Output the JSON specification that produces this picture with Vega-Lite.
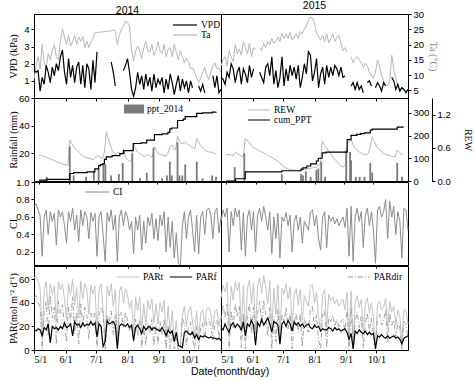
{
"$schema":"https://vega.github.io/schema/vega-lite/v6.json",
"padding":{"left":7,"top":0,"right":2,"bottom":2},
"title":{"text":"Date(month/day)","orient":"bottom","anchor":"middle","font":"Liberation Sans","fontSize":10.5,"fontWeight":"normal","offset":2,"dx":-10},
"datasets":{
"w14":[
{"d":0,"v":1.6,"t":8.6,"r":0.47,"c":4,"ci":0.72,"pt":61,"pf":17,"pd":44},
{"d":2,"v":1.5,"t":13,"r":0.46,"c":4,"ci":0.75,"pt":62,"pf":16,"pd":46},
{"d":4,"v":1.6,"t":16,"r":0.45,"c":4,"ci":0.68,"pt":58,"pf":18,"pd":40},
{"d":6,"v":0.4,"t":12,"r":0.44,"c":4,"ci":0.62,"pt":53,"pf":17,"pd":36},
{"d":8,"v":1.2,"t":20,"r":0.43,"c":7,"ci":0.15,"pt":13,"pf":12,"pd":1},
{"d":10,"v":0.8,"t":14,"r":0.41,"c":7,"ci":0.6,"pt":51,"pf":19,"pd":32},
{"d":12,"v":1.9,"t":12.5,"r":0.40,"c":7,"ci":0.68,"pt":58,"pf":17,"pd":41},
{"d":14,"v":1.5,"t":17,"r":0.38,"c":7,"ci":0.4,"pt":34,"pf":22,"pd":12},
{"d":16,"v":0.9,"t":15,"r":0.37,"c":7,"ci":0.66,"pt":56,"pf":6,"pd":46},
{"d":18,"v":1.8,"t":18,"r":0.35,"c":7,"ci":0.55,"pt":47,"pf":20,"pd":27},
{"d":20,"v":1.3,"t":20,"r":0.34,"c":7,"ci":0.64,"pt":54,"pf":18,"pd":36},
{"d":22,"v":2.0,"t":16,"r":0.33,"c":7,"ci":0.28,"pt":24,"pf":19,"pd":5},
{"d":24,"v":1.6,"t":15,"r":0.31,"c":7,"ci":0.68,"pt":58,"pf":17,"pd":41},
{"d":26,"v":2.4,"t":21,"r":0.30,"c":7,"ci":0.6,"pt":51,"pf":20,"pd":31},
{"d":28,"v":2.8,"t":25,"r":0.29,"c":7,"ci":0.66,"pt":56,"pf":18,"pd":38},
{"d":30,"v":1.5,"t":22.5,"r":0.28,"c":7,"ci":0.5,"pt":43,"pf":23,"pd":20},
{"d":32,"v":0.8,"t":20,"r":0.74,"c":33,"ci":0.3,"pt":26,"pf":19,"pd":7},
{"d":34,"v":2.3,"t":23,"r":0.68,"c":33,"ci":0.66,"pt":56,"pf":20,"pd":36},
{"d":36,"v":1.2,"t":19.5,"r":0.62,"c":37,"ci":0.55,"pt":47,"pf":22,"pd":25},
{"d":38,"v":1.9,"t":21,"r":0.58,"c":37,"ci":0.7,"pt":60,"pf":12,"pd":45},
{"d":40,"v":0.9,"t":23,"r":0.55,"c":37,"ci":0.45,"pt":38,"pf":24,"pd":14},
{"d":42,"v":1.8,"t":20,"r":0.51,"c":37,"ci":0.62,"pt":53,"pf":21,"pd":32},
{"d":44,"v":2.1,"t":22.5,"r":0.47,"c":37,"ci":0.32,"pt":27,"pf":22,"pd":5},
{"d":46,"v":0.8,"t":21,"r":0.45,"c":37,"ci":0.68,"pt":58,"pf":19,"pd":39},
{"d":48,"v":1.9,"t":22.7,"r":0.43,"c":37,"ci":0.5,"pt":43,"pf":23,"pd":20},
{"d":50,"v":0.6,"t":19,"r":0.42,"c":40,"ci":0.66,"pt":56,"pf":20,"pd":36},
{"d":52,"v":2.0,"t":21,"r":0.41,"c":40,"ci":0.6,"pt":51,"pf":22,"pd":29},
{"d":54,"v":1.7,"t":19,"r":0.40,"c":40,"ci":0.35,"pt":30,"pf":21,"pd":9},
{"d":56,"v":0.5,"t":21,"r":0.38,"c":40,"ci":0.65,"pt":55,"pf":24,"pd":31},
{"d":58,"v":2.2,"t":22,"r":0.42,"c":53,"ci":0.55,"pt":47,"pf":21,"pd":26},
{"d":60,"v":0.9,"t":23.8,"r":0.44,"c":53,"ci":0.64,"pt":54,"pf":23,"pd":31},
{"d":62,"v":2.7,"t":24,"r":0.46,"c":68,"ci":0.15,"pt":13,"pf":11,"pd":2},
{"d":64,"v":null,"t":24,"r":0.42,"c":72,"ci":0.6,"pt":51,"pf":22,"pd":29},
{"d":66,"v":null,"t":24.2,"r":0.41,"c":75,"ci":0.66,"pt":56,"pf":20,"pd":36},
{"d":68,"v":null,"t":24.1,"r":0.52,"c":95,"ci":0.4,"pt":34,"pf":3,"pd":31},
{"d":70,"v":null,"t":24.3,"r":0.89,"c":106,"ci":0.09,"pt":8,"pf":7,"pd":1},
{"d":72,"v":null,"t":24.4,"r":0.76,"c":106,"ci":0.65,"pt":54,"pf":25,"pd":29},
{"d":74,"v":null,"t":24.3,"r":0.66,"c":106,"ci":0.55,"pt":46,"pf":22,"pd":24},
{"d":76,"v":2.1,"t":24.6,"r":0.55,"c":112,"ci":0.68,"pt":56,"pf":23,"pd":33},
{"d":78,"v":1.5,"t":24.8,"r":0.50,"c":112,"ci":0.45,"pt":37,"pf":24,"pd":13},
{"d":80,"v":0.7,"t":24.5,"r":0.48,"c":112,"ci":0.62,"pt":51,"pf":21,"pd":30},
{"d":82,"v":null,"t":20,"r":0.52,"c":112,"ci":0.09,"pt":7,"pf":1,"pd":6},
{"d":84,"v":null,"t":23,"r":0.50,"c":120,"ci":0.6,"pt":49,"pf":20,"pd":29},
{"d":86,"v":null,"t":25,"r":0.48,"c":120,"ci":0.68,"pt":54,"pf":22,"pd":32},
{"d":88,"v":1.6,"t":26,"r":0.58,"c":134,"ci":0.5,"pt":40,"pf":21,"pd":19},
{"d":90,"v":1.9,"t":27.6,"r":0.42,"c":134,"ci":0.66,"pt":52,"pf":20,"pd":32},
{"d":92,"v":2.3,"t":27.2,"r":0.39,"c":134,"ci":0.6,"pt":47,"pf":22,"pd":25},
{"d":94,"v":1.5,"t":26,"r":0.36,"c":134,"ci":0.45,"pt":35,"pf":19,"pd":16},
{"d":96,"v":0.5,"t":18,"r":0.35,"c":134,"ci":0.55,"pt":42,"pf":21,"pd":21},
{"d":98,"v":0.1,"t":14.6,"r":0.68,"c":165,"ci":0.18,"pt":14,"pf":8,"pd":6},
{"d":100,"v":0.6,"t":17.8,"r":0.60,"c":165,"ci":0.6,"pt":45,"pf":19,"pd":26},
{"d":102,"v":1.5,"t":19.5,"r":0.54,"c":165,"ci":0.45,"pt":33,"pf":21,"pd":12},
{"d":104,"v":0.8,"t":18,"r":0.50,"c":165,"ci":0.62,"pt":45,"pf":18,"pd":27},
{"d":106,"v":1.3,"t":15.5,"r":0.48,"c":168,"ci":0.22,"pt":16,"pf":14,"pd":2},
{"d":108,"v":0.5,"t":19,"r":0.46,"c":168,"ci":0.55,"pt":39,"pf":20,"pd":19},
{"d":110,"v":1.4,"t":21,"r":0.44,"c":168,"ci":0.3,"pt":21,"pf":17,"pd":4},
{"d":112,"v":0.7,"t":18,"r":0.48,"c":180,"ci":0.6,"pt":42,"pf":19,"pd":23},
{"d":114,"v":1.2,"t":17.5,"r":0.46,"c":180,"ci":0.5,"pt":34,"pf":20,"pd":14},
{"d":116,"v":0.4,"t":20,"r":0.45,"c":180,"ci":0.64,"pt":43,"pf":17,"pd":26},
{"d":118,"v":1.4,"t":16.5,"r":0.44,"c":180,"ci":0.35,"pt":23,"pf":19,"pd":4},
{"d":120,"v":0.6,"t":18,"r":0.62,"c":204,"ci":0.58,"pt":39,"pf":18,"pd":21},
{"d":122,"v":1.1,"t":21,"r":0.55,"c":204,"ci":0.33,"pt":22,"pf":17,"pd":5},
{"d":124,"v":0.8,"t":18,"r":0.50,"c":204,"ci":0.62,"pt":40,"pf":16,"pd":24},
{"d":126,"v":1.2,"t":17,"r":0.48,"c":204,"ci":0.5,"pt":32,"pf":19,"pd":13},
{"d":128,"v":0.3,"t":20,"r":0.47,"c":207,"ci":0.66,"pt":42,"pf":16,"pd":26},
{"d":130,"v":1.1,"t":16,"r":0.46,"c":207,"ci":0.2,"pt":13,"pf":12,"pd":1},
{"d":132,"v":0.5,"t":18.5,"r":0.45,"c":207,"ci":0.6,"pt":37,"pf":17,"pd":20},
{"d":134,"v":1.4,"t":19,"r":0.50,"c":214,"ci":0.25,"pt":15,"pf":14,"pd":1},
{"d":136,"v":0.9,"t":16,"r":0.62,"c":229,"ci":0.55,"pt":33,"pf":16,"pd":17},
{"d":138,"v":0.2,"t":20,"r":0.65,"c":233,"ci":0.13,"pt":8,"pf":7,"pd":1},
{"d":140,"v":0.8,"t":17.5,"r":0.60,"c":233,"ci":0.42,"pt":25,"pf":15,"pd":10},
{"d":142,"v":1.3,"t":15,"r":0.56,"c":233,"ci":0.07,"pt":4,"pf":4,"pd":0},
{"d":144,"v":0.4,"t":18,"r":0.81,"c":266,"ci":0.05,"pt":3,"pf":3,"pd":0},
{"d":146,"v":1.1,"t":16,"r":0.72,"c":266,"ci":0.5,"pt":29,"pf":2,"pd":27},
{"d":148,"v":0.6,"t":14,"r":0.68,"c":266,"ci":0.66,"pt":37,"pf":15,"pd":22},
{"d":150,"v":1.0,"t":15.5,"r":0.68,"c":272,"ci":0.35,"pt":20,"pf":16,"pd":4},
{"d":152,"v":0.3,"t":14.5,"r":0.70,"c":283,"ci":0.6,"pt":33,"pf":14,"pd":19},
{"d":154,"v":1.0,"t":12,"r":0.67,"c":283,"ci":0.68,"pt":37,"pf":13,"pd":24},
{"d":156,"v":0.6,"t":12.4,"r":0.65,"c":283,"ci":0.45,"pt":24,"pf":15,"pd":9},
{"d":158,"v":null,"t":11,"r":0.62,"c":283,"ci":0.2,"pt":11,"pf":10,"pd":1},
{"d":160,"v":null,"t":9.5,"r":0.60,"c":283,"ci":0.62,"pt":33,"pf":13,"pd":20},
{"d":162,"v":0.7,"t":7.5,"r":0.58,"c":283,"ci":0.18,"pt":10,"pf":9,"pd":1},
{"d":164,"v":0.4,"t":9,"r":0.77,"c":297,"ci":0.6,"pt":31,"pf":12,"pd":19},
{"d":166,"v":0.8,"t":11,"r":0.70,"c":297,"ci":0.66,"pt":34,"pf":11,"pd":23},
{"d":168,"v":0.3,"t":12.5,"r":0.64,"c":297,"ci":0.4,"pt":21,"pf":12,"pd":9},
{"d":170,"v":null,"t":10,"r":0.60,"c":300,"ci":0.68,"pt":35,"pf":11,"pd":24},
{"d":172,"v":null,"t":8.5,"r":0.57,"c":300,"ci":0.7,"pt":36,"pf":10,"pd":26},
{"d":174,"v":null,"t":11,"r":0.54,"c":300,"ci":0.62,"pt":31,"pf":11,"pd":20},
{"d":176,"v":1.3,"t":13,"r":0.53,"c":300,"ci":0.35,"pt":18,"pf":10,"pd":8},
{"d":178,"v":0.6,"t":14,"r":0.52,"c":300,"ci":0.66,"pt":33,"pf":10,"pd":23},
{"d":180,"v":1.3,"t":12,"r":0.52,"c":303,"ci":0.7,"pt":34,"pf":9,"pd":25},
{"d":182,"v":0.3,"t":12.4,"r":0.50,"c":303,"ci":0.42,"pt":20,"pf":10,"pd":10},
{"d":184,"v":0.5,"t":11,"r":0.49,"c":305,"ci":0.6,"pt":29,"pf":8,"pd":21}
],
"w15":[
{"d":0,"v":1.2,"t":13,"r":0.48,"c":0,"ci":0.55,"pt":44,"pf":19,"pd":25},
{"d":2,"v":1.1,"t":15,"r":0.48,"c":0,"ci":0.68,"pt":55,"pf":17,"pd":38},
{"d":4,"v":0.8,"t":16,"r":0.47,"c":0,"ci":0.6,"pt":49,"pf":22,"pd":27},
{"d":6,"v":1.5,"t":13,"r":0.47,"c":0,"ci":0.7,"pt":57,"pf":18,"pd":39},
{"d":8,"v":1.2,"t":18,"r":0.46,"c":0,"ci":0.2,"pt":16,"pf":15,"pd":1},
{"d":10,"v":2.0,"t":16,"r":0.52,"c":10,"ci":0.66,"pt":54,"pf":21,"pd":33},
{"d":12,"v":1.7,"t":14.5,"r":0.49,"c":10,"ci":0.5,"pt":42,"pf":23,"pd":19},
{"d":14,"v":0.9,"t":20,"r":0.47,"c":10,"ci":0.7,"pt":58,"pf":19,"pd":39},
{"d":16,"v":1.5,"t":17,"r":0.45,"c":10,"ci":0.6,"pt":50,"pf":22,"pd":28},
{"d":18,"v":1.8,"t":18.5,"r":0.44,"c":10,"ci":0.68,"pt":57,"pf":20,"pd":37},
{"d":20,"v":0.8,"t":16.5,"r":0.77,"c":40,"ci":0.22,"pt":19,"pf":17,"pd":2},
{"d":22,"v":1.7,"t":21,"r":0.74,"c":40,"ci":0.65,"pt":55,"pf":24,"pd":31},
{"d":24,"v":1.4,"t":19,"r":0.70,"c":40,"ci":0.15,"pt":13,"pf":12,"pd":1},
{"d":26,"v":0.9,"t":17,"r":0.65,"c":40,"ci":0.6,"pt":52,"pf":22,"pd":30},
{"d":28,"v":1.9,"t":20.5,"r":0.61,"c":40,"ci":0.68,"pt":59,"pf":20,"pd":39},
{"d":30,"v":1.2,"t":16,"r":0.59,"c":40,"ci":0.45,"pt":39,"pf":25,"pd":14},
{"d":32,"v":1.7,"t":19,"r":0.57,"c":40,"ci":0.66,"pt":57,"pf":21,"pd":36},
{"d":34,"v":null,"t":18.5,"r":0.55,"c":40,"ci":0.2,"pt":17,"pf":4,"pd":13},
{"d":36,"v":null,"t":null,"r":0.53,"c":40,"ci":0.62,"pt":54,"pf":23,"pd":31},
{"d":38,"v":1.5,"t":19,"r":0.52,"c":40,"ci":0.7,"pt":61,"pf":20,"pd":41},
{"d":40,"v":1.2,"t":18,"r":0.50,"c":40,"ci":0.55,"pt":48,"pf":26,"pd":22},
{"d":42,"v":0.9,"t":20.5,"r":0.48,"c":40,"ci":0.72,"pt":63,"pf":21,"pd":42},
{"d":44,"v":1.8,"t":19,"r":0.46,"c":40,"ci":0.6,"pt":53,"pf":24,"pd":29},
{"d":46,"v":2.0,"t":21,"r":0.44,"c":40,"ci":0.45,"pt":39,"pf":27,"pd":12},
{"d":48,"v":1.3,"t":20,"r":0.42,"c":40,"ci":0.66,"pt":58,"pf":22,"pd":36},
{"d":50,"v":2.4,"t":22,"r":0.40,"c":40,"ci":0.18,"pt":16,"pf":15,"pd":1},
{"d":52,"v":0.8,"t":20.5,"r":0.38,"c":40,"ci":0.6,"pt":52,"pf":24,"pd":28},
{"d":54,"v":1.6,"t":21,"r":0.36,"c":40,"ci":0.35,"pt":30,"pf":23,"pd":7},
{"d":56,"v":0.6,"t":22.5,"r":0.32,"c":40,"ci":0.64,"pt":55,"pf":21,"pd":34},
{"d":58,"v":1.2,"t":21,"r":0.30,"c":45,"ci":0.13,"pt":11,"pf":5,"pd":6},
{"d":60,"v":2.4,"t":23.8,"r":0.26,"c":45,"ci":0.6,"pt":52,"pf":22,"pd":30},
{"d":62,"v":0.7,"t":22,"r":0.24,"c":45,"ci":0.55,"pt":47,"pf":24,"pd":23},
{"d":64,"v":1.7,"t":23.5,"r":0.22,"c":45,"ci":0.65,"pt":56,"pf":20,"pd":36},
{"d":66,"v":1.0,"t":22,"r":0.21,"c":45,"ci":0.5,"pt":43,"pf":25,"pd":18},
{"d":68,"v":1.9,"t":24,"r":0.20,"c":45,"ci":0.62,"pt":53,"pf":22,"pd":31},
{"d":70,"v":1.3,"t":21.5,"r":0.20,"c":45,"ci":0.2,"pt":17,"pf":16,"pd":1},
{"d":72,"v":1.8,"t":22.5,"r":0.19,"c":45,"ci":0.55,"pt":47,"pf":24,"pd":23},
{"d":74,"v":1.1,"t":23.5,"r":0.19,"c":45,"ci":0.62,"pt":52,"pf":21,"pd":31},
{"d":76,"v":1.9,"t":22,"r":0.18,"c":45,"ci":0.45,"pt":38,"pf":23,"pd":15},
{"d":78,"v":0.6,"t":24.3,"r":0.20,"c":52,"ci":0.6,"pt":51,"pf":20,"pd":31},
{"d":80,"v":1.2,"t":23.5,"r":0.21,"c":58,"ci":0.3,"pt":25,"pf":22,"pd":3},
{"d":82,"v":2.0,"t":25,"r":0.20,"c":58,"ci":0.55,"pt":46,"pf":19,"pd":27},
{"d":84,"v":1.4,"t":26,"r":0.22,"c":66,"ci":0.5,"pt":41,"pf":21,"pd":20},
{"d":86,"v":2.7,"t":28,"r":0.23,"c":66,"ci":0.45,"pt":37,"pf":22,"pd":15},
{"d":88,"v":2.5,"t":29,"r":0.23,"c":75,"ci":0.66,"pt":54,"pf":19,"pd":35},
{"d":90,"v":1.0,"t":28.7,"r":0.24,"c":75,"ci":0.68,"pt":55,"pf":18,"pd":37},
{"d":92,"v":1.5,"t":27,"r":0.25,"c":75,"ci":0.5,"pt":40,"pf":21,"pd":19},
{"d":94,"v":2.3,"t":24,"r":0.24,"c":88,"ci":0.62,"pt":49,"pf":19,"pd":30},
{"d":96,"v":0.6,"t":22.5,"r":0.30,"c":100,"ci":0.35,"pt":28,"pf":20,"pd":8},
{"d":98,"v":1.4,"t":21.5,"r":0.28,"c":100,"ci":0.22,"pt":17,"pf":16,"pd":1},
{"d":100,"v":1.8,"t":23,"r":0.72,"c":124,"ci":0.6,"pt":47,"pf":18,"pd":29},
{"d":102,"v":0.8,"t":21,"r":0.66,"c":124,"ci":0.66,"pt":51,"pf":17,"pd":34},
{"d":104,"v":1.9,"t":23.5,"r":0.60,"c":127,"ci":0.25,"pt":19,"pf":17,"pd":2},
{"d":106,"v":1.2,"t":20.5,"r":0.56,"c":127,"ci":0.62,"pt":47,"pf":19,"pd":28},
{"d":108,"v":1.8,"t":22,"r":0.51,"c":127,"ci":0.55,"pt":42,"pf":18,"pd":24},
{"d":110,"v":1.3,"t":23.5,"r":0.46,"c":127,"ci":0.6,"pt":45,"pf":16,"pd":29},
{"d":112,"v":1.9,"t":21,"r":0.41,"c":127,"ci":0.52,"pt":39,"pf":19,"pd":20},
{"d":114,"v":1.7,"t":22.5,"r":0.38,"c":127,"ci":0.58,"pt":43,"pf":17,"pd":26},
{"d":116,"v":1.3,"t":23,"r":0.34,"c":127,"ci":0.5,"pt":37,"pf":18,"pd":19},
{"d":118,"v":1.8,"t":20.5,"r":0.30,"c":127,"ci":0.55,"pt":40,"pf":16,"pd":24},
{"d":120,"v":1.2,"t":18,"r":0.27,"c":127,"ci":0.6,"pt":43,"pf":17,"pd":26},
{"d":122,"v":1.3,"t":19,"r":0.25,"c":127,"ci":0.48,"pt":34,"pf":18,"pd":16},
{"d":124,"v":null,"t":17.5,"r":0.30,"c":127,"ci":0.7,"pt":49,"pf":15,"pd":34},
{"d":126,"v":null,"t":null,"r":0.68,"c":182,"ci":0.15,"pt":10,"pf":9,"pd":1},
{"d":128,"v":0.7,"t":16,"r":0.70,"c":182,"ci":0.72,"pt":50,"pf":14,"pd":36},
{"d":130,"v":0.9,"t":14,"r":0.74,"c":201,"ci":0.09,"pt":6,"pf":1,"pd":5},
{"d":132,"v":0.5,"t":15.5,"r":0.66,"c":201,"ci":0.6,"pt":40,"pf":16,"pd":24},
{"d":134,"v":0.9,"t":16,"r":0.60,"c":201,"ci":0.7,"pt":46,"pf":14,"pd":32},
{"d":136,"v":0.5,"t":15,"r":0.56,"c":205,"ci":0.55,"pt":36,"pf":17,"pd":19},
{"d":138,"v":0.7,"t":14,"r":0.53,"c":205,"ci":0.66,"pt":43,"pf":15,"pd":28},
{"d":140,"v":0.3,"t":12.5,"r":0.51,"c":208,"ci":0.25,"pt":16,"pf":14,"pd":2},
{"d":142,"v":null,"t":14,"r":0.49,"c":208,"ci":0.62,"pt":39,"pf":16,"pd":23},
{"d":144,"v":0.9,"t":13,"r":0.48,"c":212,"ci":0.7,"pt":44,"pf":13,"pd":31},
{"d":146,"v":1.0,"t":11,"r":0.47,"c":212,"ci":0.5,"pt":31,"pf":15,"pd":16},
{"d":148,"v":0.7,"t":10,"r":0.50,"c":212,"ci":0.66,"pt":40,"pf":13,"pd":27},
{"d":150,"v":null,"t":9,"r":0.62,"c":224,"ci":0.45,"pt":27,"pf":14,"pd":13},
{"d":152,"v":0.6,"t":11,"r":0.80,"c":228,"ci":0.07,"pt":4,"pf":1,"pd":3},
{"d":154,"v":0.9,"t":15,"r":0.72,"c":228,"ci":0.68,"pt":39,"pf":12,"pd":27},
{"d":156,"v":0.7,"t":13,"r":0.65,"c":228,"ci":0.72,"pt":41,"pf":11,"pd":30},
{"d":158,"v":0.4,"t":10,"r":0.59,"c":228,"ci":0.6,"pt":34,"pf":13,"pd":21},
{"d":160,"v":0.9,"t":8,"r":0.56,"c":228,"ci":0.66,"pt":36,"pf":11,"pd":25},
{"d":162,"v":0.7,"t":7,"r":0.53,"c":228,"ci":0.8,"pt":44,"pf":10,"pd":34},
{"d":164,"v":null,"t":6.5,"r":0.50,"c":228,"ci":0.35,"pt":19,"pf":12,"pd":7},
{"d":166,"v":null,"t":8,"r":0.48,"c":228,"ci":0.78,"pt":41,"pf":10,"pd":31},
{"d":168,"v":1.2,"t":16.5,"r":0.47,"c":228,"ci":0.6,"pt":32,"pf":11,"pd":21},
{"d":170,"v":1.0,"t":12,"r":0.46,"c":228,"ci":0.72,"pt":37,"pf":12,"pd":25},
{"d":172,"v":0.5,"t":9,"r":0.45,"c":228,"ci":0.4,"pt":21,"pf":10,"pd":11},
{"d":174,"v":0.8,"t":6,"r":0.44,"c":228,"ci":0.66,"pt":34,"pf":11,"pd":23},
{"d":176,"v":0.4,"t":5.5,"r":0.44,"c":228,"ci":0.55,"pt":28,"pf":9,"pd":19},
{"d":178,"v":0.6,"t":6,"r":0.56,"c":237,"ci":0.13,"pt":6,"pf":5,"pd":1},
{"d":180,"v":0.5,"t":5,"r":0.52,"c":237,"ci":0.7,"pt":34,"pf":10,"pd":24},
{"d":182,"v":0.3,"t":4.8,"r":0.49,"c":237,"ci":0.68,"pt":33,"pf":11,"pd":22},
{"d":184,"v":0.5,"t":5.2,"r":0.47,"c":241,"ci":0.45,"pt":22,"pf":12,"pd":10}
],
"r14":[{"d":8,"p":3},{"d":32,"p":25},{"d":36,"p":4},{"d":49,"p":3},{"d":57,"p":7},{"d":62,"p":9},{"d":67,"p":13},{"d":69,"p":12},{"d":75,"p":4},{"d":83,"p":5},{"d":87,"p":13},{"d":97,"p":20},{"d":105,"p":2},{"d":112,"p":6},{"d":119,"p":24},{"d":128,"p":2},{"d":133,"p":4},{"d":136,"p":14},{"d":138,"p":4},{"d":144,"p":28},{"d":146,"p":4},{"d":149,"p":4},{"d":152,"p":12},{"d":164,"p":14},{"d":170,"p":2},{"d":180,"p":4},{"d":184,"p":3}],
"r15":[{"d":9,"p":10},{"d":19,"p":20},{"d":58,"p":5},{"d":78,"p":5},{"d":80,"p":4},{"d":83,"p":7},{"d":88,"p":3},{"d":94,"p":8},{"d":96,"p":9},{"d":99,"p":14},{"d":103,"p":3},{"d":125,"p":22},{"d":129,"p":21},{"d":130,"p":15},{"d":135,"p":3},{"d":139,"p":3},{"d":144,"p":3},{"d":150,"p":13},{"d":152,"p":6},{"d":178,"p":13},{"d":183,"p":3}]
},
"columns":2,
"spacing":0,
"bounds":"flush",
"align":"all",
"concat":[
{
"width":187,"height":84,
"title":{"text":"2014"},
"data":{"name":"w14"},
"encoding":{"x":{"field":"d","type":"quantitative","scale":{"domain":[0,184],"nice":false,"zero":false},"axis":{"values":[0,31,61,92,123,153],"labels":false,"title":null}}},
"layer":[
{"mark":{"type":"line","strokeWidth":1,"invalid":"break-paths-filter-domains"},
"encoding":{"y":{"field":"t","type":"quantitative","scale":{"domain":[2.5,30],"nice":false,"zero":false},"axis":null},
"color":{"datum":"Ta","type":"nominal","scale":{"domain":["VPD","Ta"],"range":["#000000","#b8b8b8"]},
"legend":{"title":null,"orient":"none","legendX":138,"legendY":6,"direction":"vertical","symbolType":"stroke","symbolSize":576,"symbolStrokeWidth":1.2,"clipHeight":10,"rowPadding":-5,"padding":0,"labelFont":"Liberation Serif","labelFontSize":9.5,"labelOffset":3}}}},
{"mark":{"type":"line","strokeWidth":1.2,"invalid":"break-paths-filter-domains"},
"encoding":{"y":{"field":"v","type":"quantitative","scale":{"domain":[0,4.9],"nice":false,"zero":false},"axis":{"orient":"left","values":[1,2,3,4],"title":"VPD (kPa)","titleX":-16}},
"color":{"datum":"VPD","type":"nominal"}}},
{"data":{"values":[{}]},"mark":{"type":"text","align":"left","baseline":"middle","font":"Liberation Sans","fontSize":10},
"encoding":{"x":{"datum":3,"type":"quantitative"},"y":{"datum":0.89,"type":"quantitative","scale":{"domain":[0,1]},"axis":null},"text":{"value":"(a)"}}}
],
"resolve":{"scale":{"y":"independent"}}
},
{
"width":187,"height":84,
"title":{"text":"2015"},
"data":{"name":"w15"},
"encoding":{"x":{"field":"d","type":"quantitative","scale":{"domain":[0,184],"nice":false,"zero":false},"axis":{"values":[0,31,61,92,123,153],"labels":false,"title":null}}},
"layer":[
{"mark":{"type":"line","strokeWidth":1,"color":"#b8b8b8","invalid":"break-paths-filter-domains"},
"encoding":{"y":{"field":"t","type":"quantitative","scale":{"domain":[2.5,30],"nice":false,"zero":false},"axis":{"orient":"right","values":[5,10,15,20,25,30],"title":"Ta (°C)","titleColor":"#8a8a8a"}}}},
{"mark":{"type":"line","strokeWidth":1.2,"color":"#000000","invalid":"break-paths-filter-domains"},
"encoding":{"y":{"field":"v","type":"quantitative","scale":{"domain":[0,4.9],"nice":false,"zero":false},"axis":null}}},
{"data":{"values":[{}]},"mark":{"type":"text","align":"left","baseline":"middle","font":"Liberation Sans","fontSize":10},
"encoding":{"x":{"datum":3,"type":"quantitative"},"y":{"datum":0.89,"type":"quantitative","scale":{"domain":[0,1]},"axis":null},"text":{"value":"(b)"}}}
],
"resolve":{"scale":{"y":"independent"}}
},
{
"width":187,"height":83,
"data":{"name":"w14"},
"encoding":{"x":{"field":"d","type":"quantitative","scale":{"domain":[0,184],"nice":false,"zero":false},"axis":{"values":[0,31,61,92,123,153],"labels":false,"title":null}}},
"layer":[
{"mark":{"type":"line","strokeWidth":1,"color":"#b8b8b8"},
"encoding":{"y":{"field":"r","type":"quantitative","scale":{"domain":[0,1.5],"nice":false},"axis":null}}},
{"data":{"name":"r14"},"mark":{"type":"bar","size":1.8},
"encoding":{"y":{"field":"p","type":"quantitative","scale":{"domain":[0,60],"nice":false},"axis":{"orient":"left","values":[20,40,60],"title":"Rainfall (mm)","titleX":-16}},
"color":{"datum":"ppt_2014","type":"nominal","scale":{"domain":["ppt_2014"],"range":["#7a7a7a"]},
"legend":{"title":null,"orient":"none","legendX":90,"legendY":6,"symbolType":"M-1,-0.45H1V0.45H-1Z","symbolSize":400,"symbolStrokeWidth":0,"clipHeight":10,"padding":0,"labelFont":"Liberation Serif","labelFontSize":9.5,"labelOffset":3}}}},
{"mark":{"type":"line","strokeWidth":1.2,"color":"#000000","interpolate":"step-after"},
"encoding":{"y":{"field":"c","type":"quantitative","scale":{"domain":[0,365],"nice":false},"axis":null}}},
{"data":{"values":[{}]},"mark":{"type":"text","align":"left","baseline":"middle","font":"Liberation Sans","fontSize":10},
"encoding":{"x":{"datum":3,"type":"quantitative"},"y":{"datum":0.89,"type":"quantitative","scale":{"domain":[0,1]},"axis":null},"text":{"value":"(c)"}}}
],
"resolve":{"scale":{"y":"independent"}}
},
{
"width":187,"height":83,
"data":{"name":"w15"},
"encoding":{"x":{"field":"d","type":"quantitative","scale":{"domain":[0,184],"nice":false,"zero":false},"axis":{"values":[0,31,61,92,123,153],"labels":false,"title":null}}},
"layer":[
{"mark":{"type":"line","strokeWidth":1},
"encoding":{"y":{"field":"r","type":"quantitative","scale":{"domain":[0,1.5],"nice":false},"axis":{"orient":"right","offset":24,"values":[0,0.6,1.2],"format":".1f","title":"REW","titlePadding":12}},
"color":{"datum":"REW","type":"nominal","scale":{"domain":["REW","cum_PPT"],"range":["#b8b8b8","#000000"]},
"legend":{"title":null,"orient":"none","legendX":26,"legendY":7,"direction":"vertical","symbolType":"stroke","symbolSize":484,"symbolStrokeWidth":1.2,"clipHeight":10,"rowPadding":-2,"padding":0,"labelFont":"Liberation Serif","labelFontSize":9.5,"labelOffset":3}}}},
{"data":{"name":"r15"},"mark":{"type":"bar","size":1.8,"color":"#7a7a7a"},
"encoding":{"y":{"field":"p","type":"quantitative","scale":{"domain":[0,60],"nice":false},"axis":null}}},
{"mark":{"type":"line","strokeWidth":1.2,"interpolate":"step-after"},
"encoding":{"y":{"field":"c","type":"quantitative","scale":{"domain":[0,365],"nice":false},"axis":{"orient":"right","values":[0,100,200,300],"title":null}},
"color":{"datum":"cum_PPT","type":"nominal"}}},
{"data":{"values":[{}]},"mark":{"type":"text","align":"left","baseline":"middle","font":"Liberation Sans","fontSize":10},
"encoding":{"x":{"datum":3,"type":"quantitative"},"y":{"datum":0.89,"type":"quantitative","scale":{"domain":[0,1]},"axis":null},"text":{"value":"(d)"}}}
],
"resolve":{"scale":{"y":"independent"}}
},
{
"width":187,"height":83,
"data":{"name":"w14"},
"encoding":{"x":{"field":"d","type":"quantitative","scale":{"domain":[0,184],"nice":false,"zero":false},"axis":{"values":[0,31,61,92,123,153],"labels":false,"title":null}}},
"layer":[
{"mark":{"type":"line","strokeWidth":1},
"encoding":{"y":{"field":"ci","type":"quantitative","scale":{"domain":[0.05,1.0],"nice":false,"zero":false},"axis":{"orient":"left","values":[0.2,0.4,0.6,0.8,1.0],"format":".1f","title":"CI","titleX":-16}},
"color":{"datum":"CI","type":"nominal","scale":{"domain":["CI"],"range":["#8c8c8c"]},
"legend":{"title":null,"orient":"none","legendX":50,"legendY":5,"symbolType":"stroke","symbolSize":576,"symbolStrokeWidth":1.2,"clipHeight":10,"padding":0,"labelFont":"Liberation Serif","labelFontSize":9.5,"labelOffset":3}}}},
{"data":{"values":[{}]},"mark":{"type":"text","align":"left","baseline":"middle","font":"Liberation Sans","fontSize":10},
"encoding":{"x":{"datum":3,"type":"quantitative"},"y":{"datum":0.91,"type":"quantitative","scale":{"domain":[0,1]},"axis":null},"text":{"value":"(e)"}}}
],
"resolve":{"scale":{"y":"independent"}}
},
{
"width":187,"height":83,
"data":{"name":"w15"},
"encoding":{"x":{"field":"d","type":"quantitative","scale":{"domain":[0,184],"nice":false,"zero":false},"axis":{"values":[0,31,61,92,123,153],"labels":false,"title":null}}},
"layer":[
{"mark":{"type":"line","strokeWidth":1,"color":"#8c8c8c"},
"encoding":{"y":{"field":"ci","type":"quantitative","scale":{"domain":[0.05,1.0],"nice":false,"zero":false},"axis":null}}},
{"data":{"values":[{}]},"mark":{"type":"text","align":"left","baseline":"middle","font":"Liberation Sans","fontSize":10},
"encoding":{"x":{"datum":3,"type":"quantitative"},"y":{"datum":0.91,"type":"quantitative","scale":{"domain":[0,1]},"axis":null},"text":{"value":"(f)"}}}
],
"resolve":{"scale":{"y":"independent"}}
},
{
"width":187,"height":84,
"data":{"name":"w14"},
"encoding":{"x":{"field":"d","type":"quantitative","scale":{"domain":[0,184],"nice":false,"zero":false},"axis":{"values":[0,31,61,92,123,153],"title":null,"labelFont":"Liberation Serif","labelFontSize":10,"labelPadding":1,"labelExpr":"datum.value==0?'5/1':datum.value==31?'6/1':datum.value==61?'7/1':datum.value==92?'8/1':datum.value==123?'9/1':'10/1'"}}},
"layer":[
{"mark":{"type":"line","strokeWidth":1},
"encoding":{"y":{"field":"pt","type":"quantitative","scale":{"domain":[0,71],"nice":false},"axis":{"orient":"left","values":[0,20,40,60],"title":"PAR(mol m⁻² d⁻¹)","titleX":-16}},
"color":{"datum":"PARt","type":"nominal","scale":{"domain":["PARt","PARf"],"range":["#c4c4c4","#000000"]},
"legend":{"title":null,"orient":"none","legendX":82,"legendY":6,"direction":"horizontal","symbolType":"stroke","symbolSize":500,"symbolStrokeWidth":1.2,"clipHeight":10,"columnPadding":5,"padding":0,"labelFont":"Liberation Serif","labelFontSize":9.5,"labelOffset":3}}}},
{"mark":{"type":"line","strokeWidth":0.9,"color":"#9a9a9a","strokeDash":[5,2,1,2]},
"encoding":{"y":{"field":"pd","type":"quantitative","scale":{"domain":[0,71],"nice":false},"axis":null}}},
{"mark":{"type":"line","strokeWidth":1.2},
"encoding":{"y":{"field":"pf","type":"quantitative","scale":{"domain":[0,71],"nice":false},"axis":null},
"color":{"datum":"PARf","type":"nominal"}}},
{"data":{"values":[{}]},"mark":{"type":"text","align":"left","baseline":"middle","font":"Liberation Sans","fontSize":10},
"encoding":{"x":{"datum":3,"type":"quantitative"},"y":{"datum":0.91,"type":"quantitative","scale":{"domain":[0,1]},"axis":null},"text":{"value":"(g)"}}}
],
"resolve":{"scale":{"y":"independent"}}
},
{
"width":187,"height":84,
"data":{"name":"w15"},
"encoding":{"x":{"field":"d","type":"quantitative","scale":{"domain":[0,184],"nice":false,"zero":false},"axis":{"values":[0,31,61,92,123,153],"title":null,"labelFont":"Liberation Serif","labelFontSize":10,"labelPadding":1,"labelExpr":"datum.value==0?'5/1':datum.value==31?'6/1':datum.value==61?'7/1':datum.value==92?'8/1':datum.value==123?'9/1':'10/1'"}}},
"layer":[
{"mark":{"type":"line","strokeWidth":1,"color":"#c4c4c4"},
"encoding":{"y":{"field":"pt","type":"quantitative","scale":{"domain":[0,71],"nice":false},"axis":null}}},
{"mark":{"type":"line","strokeWidth":0.9,"strokeDash":[5,2,1,2]},
"encoding":{"y":{"field":"pd","type":"quantitative","scale":{"domain":[0,71],"nice":false},"axis":null},
"color":{"datum":"PARdir","type":"nominal","scale":{"domain":["PARdir"],"range":["#9a9a9a"]},
"legend":{"title":null,"orient":"none","legendX":126,"legendY":6,"symbolType":"stroke","symbolSize":500,"symbolStrokeWidth":1,"symbolDash":[5,2,1,2],"clipHeight":10,"padding":0,"labelFont":"Liberation Serif","labelFontSize":9.5,"labelOffset":3}}}},
{"mark":{"type":"line","strokeWidth":1.2,"color":"#000000"},
"encoding":{"y":{"field":"pf","type":"quantitative","scale":{"domain":[0,71],"nice":false},"axis":null}}},
{"data":{"values":[{}]},"mark":{"type":"text","align":"left","baseline":"middle","font":"Liberation Sans","fontSize":10},
"encoding":{"x":{"datum":3,"type":"quantitative"},"y":{"datum":0.91,"type":"quantitative","scale":{"domain":[0,1]},"axis":null},"text":{"value":"(h)"}}}
],
"resolve":{"scale":{"y":"independent"}}
}
],
"resolve":{"scale":{"color":"independent","x":"independent","y":"independent"},"legend":{"color":"independent"}},
"config":{
"view":{"stroke":"#000000","strokeWidth":1},
"axis":{"grid":false,"domainColor":"#000000","tickColor":"#000000","labelColor":"#000000","titleColor":"#000000","labelFont":"Liberation Sans","labelFontSize":9.5,"titleFont":"Liberation Serif","titleFontSize":10,"titleFontWeight":"normal","tickSize":3,"labelPadding":2},
"title":{"font":"Liberation Sans","fontSize":10.5,"fontWeight":"normal","offset":-2,"color":"#000000"}
}
}
